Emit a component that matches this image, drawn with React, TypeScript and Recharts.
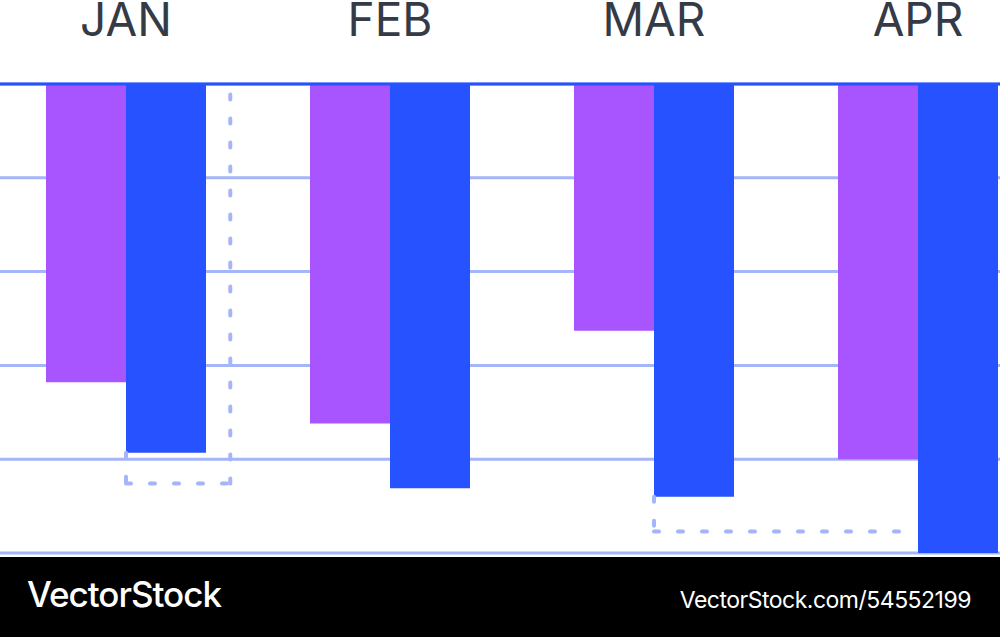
import React from 'react';
import { BarChart, Bar, XAxis, YAxis, CartesianGrid, ReferenceLine } from 'recharts';

// Categories and values (y axis runs top -> down)
const MONTHS = ['JAN', 'FEB', 'MAR', 'APR'];
const PURPLE_VALUES = [3.18, 3.62, 2.63, 4.0];
const BLUE_VALUES = [3.93, 4.31, 4.4, 5.0];
const Y_TICKS = [0, 1, 2, 3, 4, 5];

// Dotted guide segments, in [x (band units), y (value)] pairs
const GUIDE_SEGMENTS: [number, number][][] = [
	[[0.5, 3.93], [0.5, 4.26]],
	[[0.5, 4.26], [0.895, 4.26]],
	[[0.895, 4.26], [0.895, 0]],
	[[2.5, 4.4], [2.5, 4.77]],
	[[2.5, 4.77], [3.5, 4.77]],
];

const data = MONTHS.map((month, i) => ({
	month,
	pos: i + 0.5,
	purple: PURPLE_VALUES[i],
	blue: BLUE_VALUES[i],
}));

const GRID = '#a4b5fa';
const BLUE = '#2653ff';
const PURPLE = '#a855ff';

export default function App() {
	return (
		<div
			style={{
				position: 'absolute',
				left: 0,
				top: 0,
				width: 1000,
				height: 637,
				overflow: 'hidden',
				background: '#fff',
				fontFamily: 'Inter, "Noto Sans", sans-serif',
			}}
		>
			<div style={{ position: 'absolute', left: -20, top: 0 }}>
				<BarChart
					width={1090}
					height={557}
					data={data}
					margin={{ top: 0, right: 20, left: 14, bottom: 4 }}
					barGap={0}
					barSize={80}
				>
					<CartesianGrid horizontal vertical={false} stroke={GRID} strokeWidth={3} />
					<XAxis
						dataKey="month"
						orientation="top"
						height={84}
						tickLine={false}
						tickSize={6}
						tickMargin={42}
						axisLine={{ stroke: BLUE, strokeWidth: 3 }}
						tick={{ fill: '#343b46', fontSize: 46, fontFamily: 'Inter, sans-serif' }}
					/>
					<XAxis
						xAxisId="n"
						dataKey="pos"
						type="number"
						domain={[0, 4]}
						allowDataOverflow
						hide
					/>
					<YAxis reversed domain={[0, 5]} ticks={Y_TICKS} hide />
					<Bar dataKey="purple" fill={PURPLE} isAnimationActive={false} />
					<Bar dataKey="blue" fill={BLUE} isAnimationActive={false} />
					{GUIDE_SEGMENTS.map((seg, i) => (
						<ReferenceLine
							key={i}
							xAxisId="n"
							segment={seg.map(([x, y]) => ({ x, y }))}
							stroke={GRID}
							strokeWidth={4}
							strokeDasharray="5 19"
							strokeLinecap="round"
							style={{ strokeLinecap: 'round' }}
							ifOverflow="visible"
						/>
					))}
				</BarChart>
			</div>
			<div style={{ position: 'absolute', left: 0, top: 557, width: 1000, height: 80, background: '#000' }}>
				<div
					style={{
						position: 'absolute',
						left: 27,
						top: 16,
						color: '#fff',
						fontSize: 35,
						letterSpacing: -1,
						fontWeight: 500,
					}}
				>
					VectorStock
				</div>
				<div
					style={{
						position: 'absolute',
						right: 29,
						top: 29,
						color: '#fff',
						fontSize: 23,
						letterSpacing: -0.5,
					}}
				>
					VectorStock.com/54552199
				</div>
			</div>
		</div>
	);
}
